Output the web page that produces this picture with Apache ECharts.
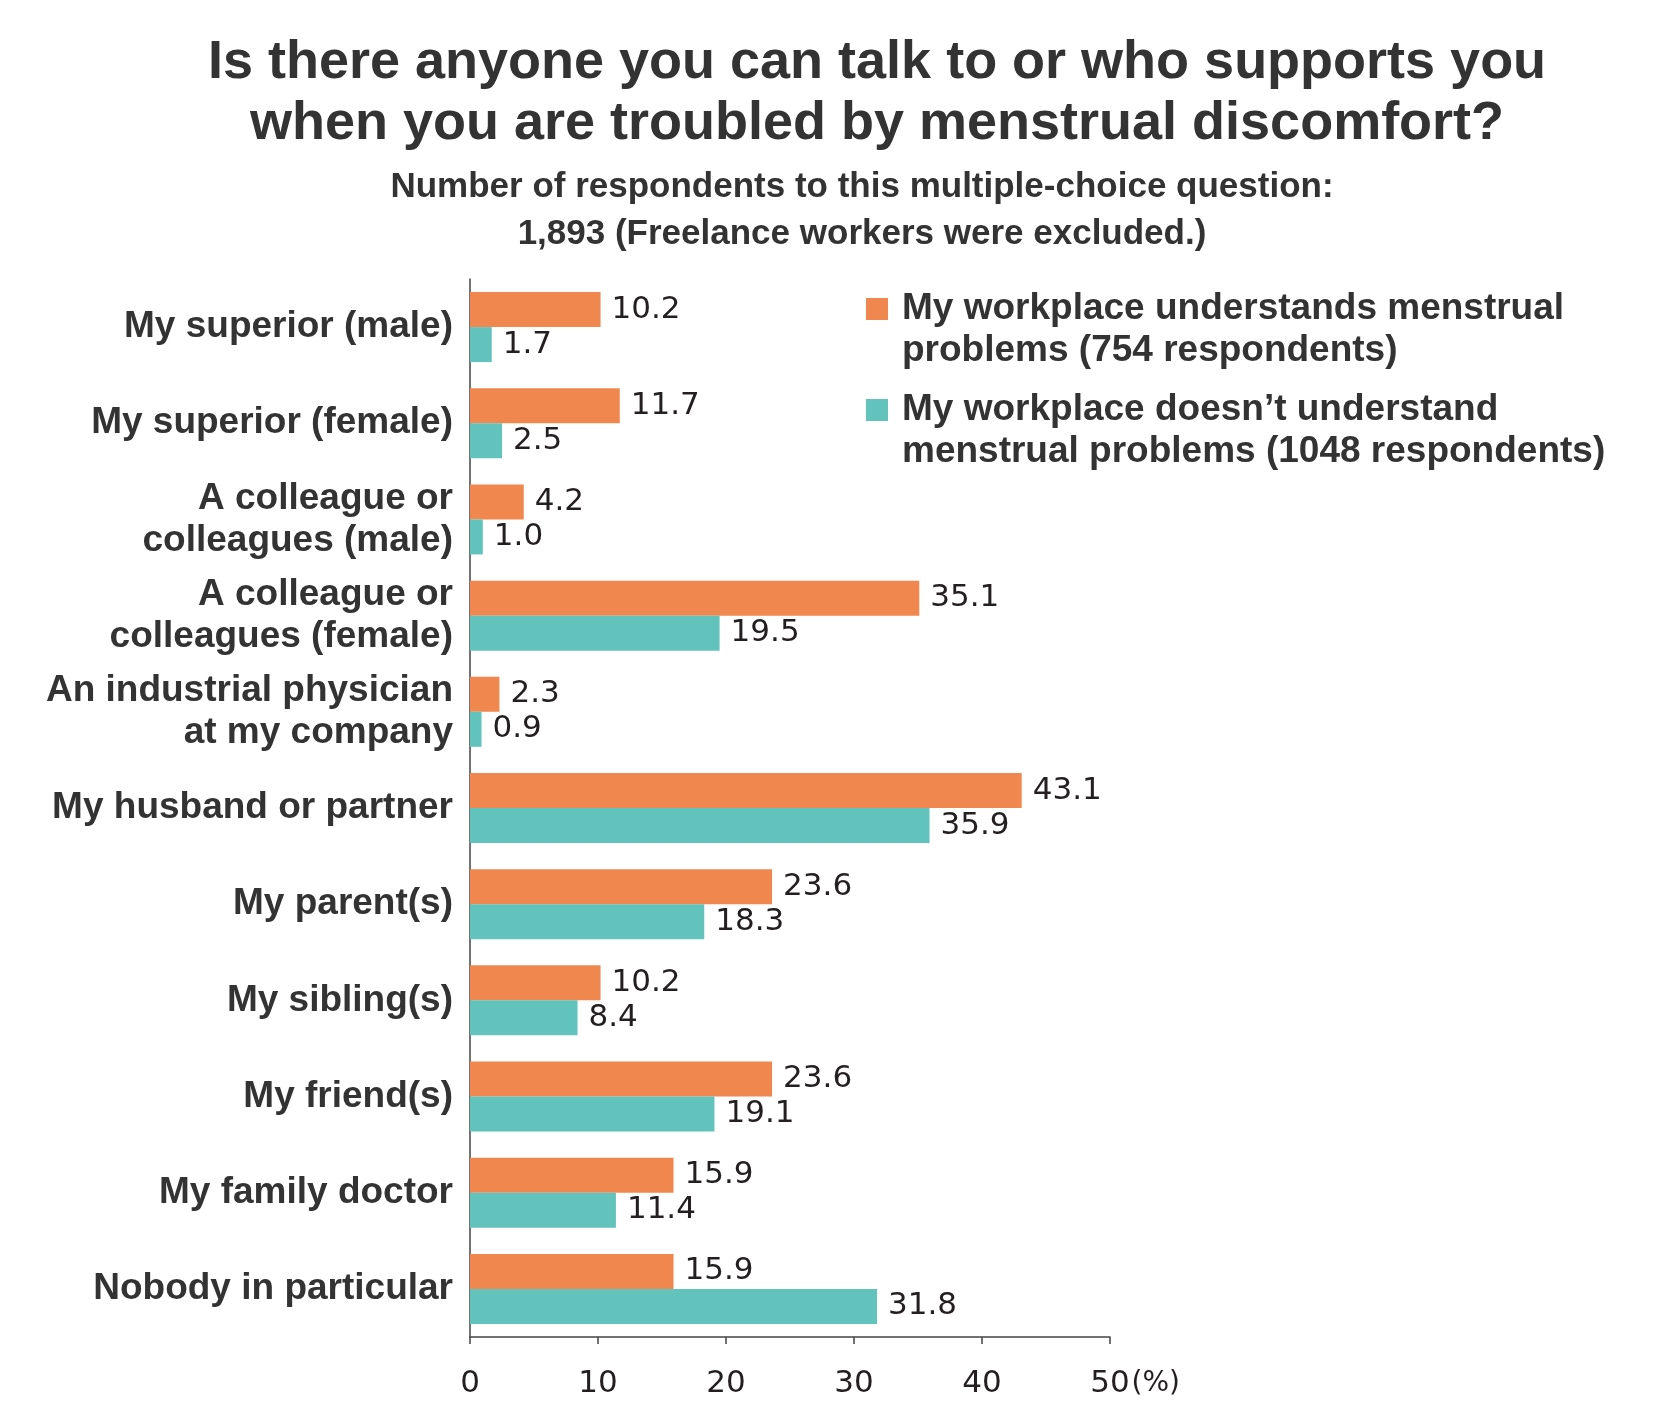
<!DOCTYPE html>
<html>
<head>
<meta charset="utf-8">
<script src="https://cdn.jsdelivr.net/npm/echarts@6/dist/echarts.min.js"></script>
<style>
  html, body { margin: 0; padding: 0; background: #fff; }
  #chart { width: 1673px; height: 1422px; }
</style>
</head>
<body>
<div id="chart"></div>
<script>
// categories, top to bottom
const categories = [
  'My superior (male)',
  'My superior (female)',
  'A colleague or\ncolleagues (male)',
  'A colleague or\ncolleagues (female)',
  'An industrial physician\nat my company',
  'My husband or partner',
  'My parent(s)',
  'My sibling(s)',
  'My friend(s)',
  'My family doctor',
  'Nobody in particular'
]

const understands = [10.2, 11.7, 4.2, 35.1, 2.3, 43.1, 23.6, 10.2, 23.6, 15.9, 15.9]
const notUnderstands = [1.7, 2.5, 1.0, 19.5, 0.9, 35.9, 18.3, 8.4, 19.1, 11.4, 31.8]

const seriesNames = [
  'My workplace understands menstrual\nproblems (754 respondents)',
  'My workplace doesn\u2019t understand\nmenstrual problems (1048 respondents)'
]

const xTicks = [0, 10, 20, 30, 40, 50]

const titleText = 'Is there anyone you can talk to or who supports you\nwhen you are troubled by menstrual discomfort?'
const subText = 'Number of respondents to this multiple-choice question:\n1,893 (Freelance workers were excluded.)'

const ORANGE = '#EF874F'
const TEAL = '#62C2BC'
const TEXT = '#333333'
const FONT = '"Liberation Sans", Arial, sans-serif'
const NUMFONT = '"DejaVu Sans", sans-serif'

// square icon sitting on the first line of a two-line legend entry
const LEGEND_ICON = 'path://M0,0h0.01v0.01h-0.01z M0,10h22v22h-22z M0,84h0.01v0.01h-0.01z'

const chart = echarts.init(document.getElementById('chart'))

const labelStyle = {
  show: true,
  position: 'right',
  distance: 11,
  color: '#231f20',
  fontFamily: NUMFONT,
  fontSize: 31,
  formatter: p => p.value.toFixed(1)
}

const legendBase = {
  left: 861,
  orient: 'vertical',
  itemWidth: 22,
  itemHeight: 84,
  icon: LEGEND_ICON,
  textStyle: {
    color: TEXT,
    fontFamily: FONT,
    fontWeight: 'bold',
    fontSize: 37,
    lineHeight: 42,
    padding: [0, 0, 0, 9]
  }
}

const option = {
  backgroundColor: '#fff',
  animation: false,
  title: [
    {
      text: titleText,
      left: 872,
      top: 28,
      textAlign: 'center',
      textStyle: {
        color: TEXT,
        fontFamily: FONT,
        fontWeight: 'bold',
        fontSize: 54,
        lineHeight: 61
      }
    },
    {
      text: subText,
      left: 857,
      top: 159,
      textAlign: 'center',
      textStyle: {
        color: TEXT,
        fontFamily: FONT,
        fontWeight: 'bold',
        fontSize: 35,
        lineHeight: 47
      }
    }
  ],
  legend: [
    Object.assign({ data: [seriesNames[0]], top: 283 }, legendBase),
    Object.assign({ data: [seriesNames[1]], top: 384 }, legendBase)
  ],
  grid: {
    left: 470,
    top: 279,
    width: 640,
    height: 1058,
    containLabel: false
  },
  xAxis: {
    type: 'value',
    min: xTicks[0],
    max: xTicks[xTicks.length - 1],
    interval: 10,
    splitLine: { show: false },
    axisLine: { show: true, lineStyle: { color: '#444', width: 1.5 } },
    axisTick: { show: true, length: 7, lineStyle: { color: '#444', width: 1.5 } },
    axisLabel: {
      margin: 31,
      color: '#231f20',
      fontFamily: NUMFONT,
      fontSize: 31,
      formatter: v => v === 50 ? '{pad|}50{pct|(%)}' : String(v),
      rich: {
        pad: { width: 52 },
        pct: { width: 52, fontSize: 28, color: '#231f20', fontFamily: NUMFONT }
      }
    }
  },
  yAxis: {
    type: 'category',
    data: categories,
    inverse: true,
    axisLine: { show: true, lineStyle: { color: '#444', width: 1.5 } },
    axisTick: { show: false },
    axisLabel: {
      margin: 17,
      color: TEXT,
      fontFamily: FONT,
      fontWeight: 'bold',
      fontSize: 37,
      lineHeight: 42,
      align: 'right'
    }
  },
  series: [
    {
      name: seriesNames[0],
      type: 'bar',
      data: understands,
      barWidth: 35,
      barGap: '0%',
      itemStyle: { color: ORANGE },
      label: labelStyle
    },
    {
      name: seriesNames[1],
      type: 'bar',
      data: notUnderstands,
      barWidth: 35,
      barGap: '0%',
      itemStyle: { color: TEAL },
      label: labelStyle
    }
  ]
}

chart.setOption(option)
</script>
</body>
</html>
